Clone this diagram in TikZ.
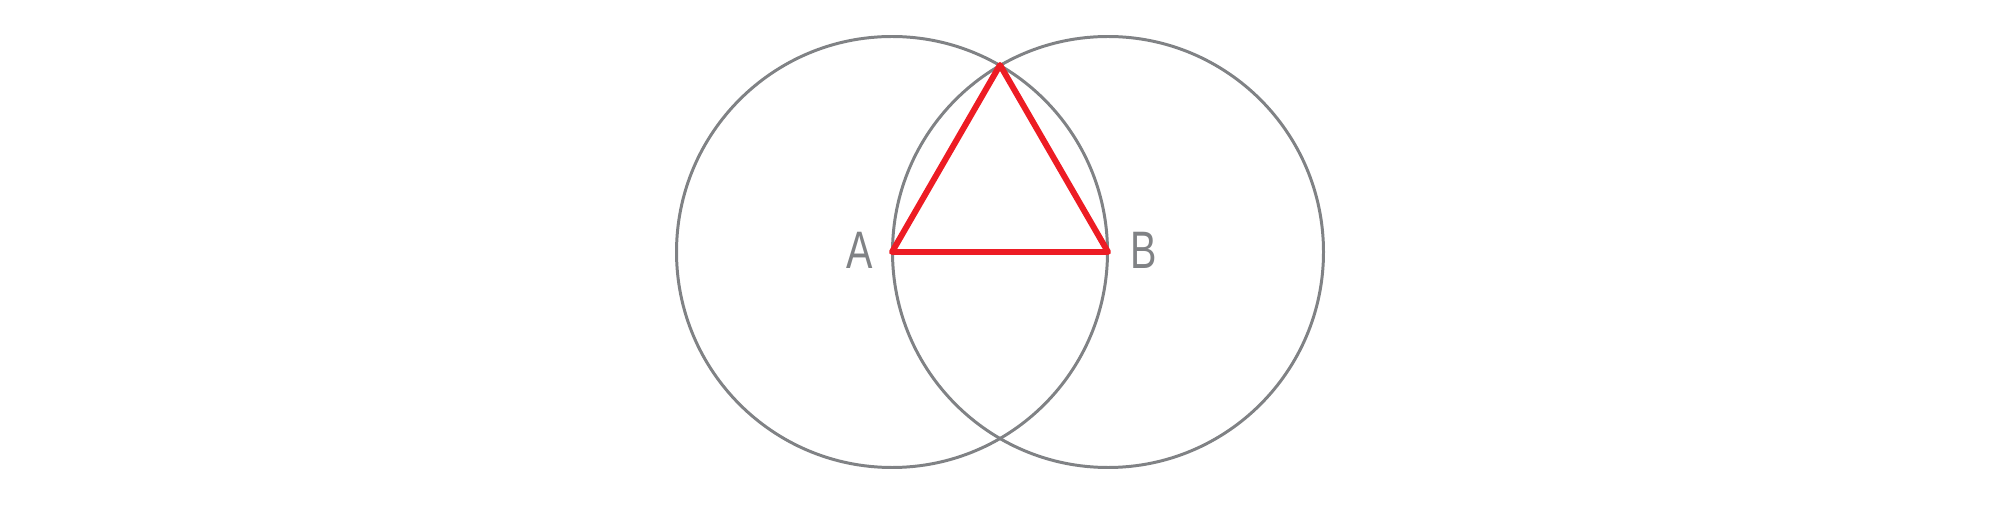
\documentclass[tikz,border=0pt]{standalone}
\usepackage{fontspec}
\newfontfamily\labfont[FakeStretch=0.75]{Liberation Sans}
\definecolor{cgray}{HTML}{808285}
\definecolor{cred}{HTML}{ED1C24}
\begin{document}
\begin{tikzpicture}
\tikzset{
  circ/.style={draw=cgray, line width=0.85pt},
  tri/.style={draw=cred, line width=1.7pt, line join=round},
  lab/.style={text=cgray, font=\labfont\fontsize{15}{15}\selectfont, inner sep=0pt}
}
\useasboundingbox (0,0) rectangle (20,5.05);
\coordinate (A) at (8.92,2.53);
\coordinate (B) at (11.08,2.53);
\coordinate (C) at (10,4.40);
\draw[circ] (A) circle (2.155);
\draw[circ] (B) circle (2.155);
\draw[tri] (A) -- (B) -- (C) -- cycle;
\node[lab] (la) at (8.60,2.55) {A};
\node[lab] (lb) at (11.44,2.55) {B};
\end{tikzpicture}
\end{document}
